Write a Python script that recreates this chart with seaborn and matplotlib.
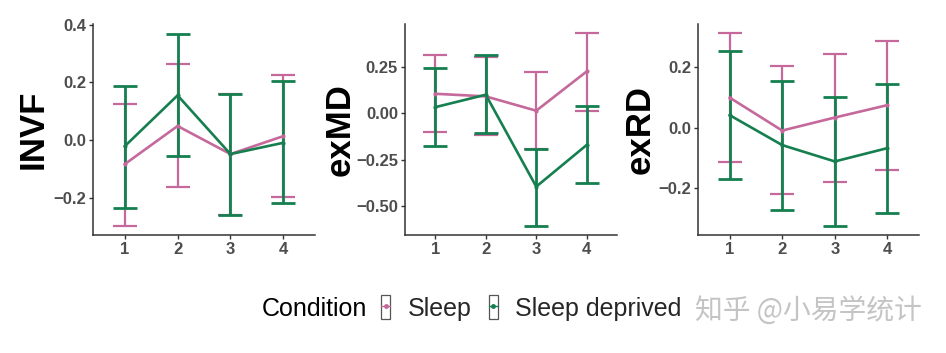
import matplotlib
matplotlib.use("Agg")
import matplotlib.pyplot as plt
import seaborn as sns
import pandas as pd
import numpy as np
from matplotlib.lines import Line2D
from matplotlib.patches import Rectangle
from matplotlib.legend_handler import HandlerTuple

sns.set_theme(style="white")
plt.rcParams['font.family'] = ['Liberation Sans', 'DejaVu Sans']

timepoints = [1, 2, 3, 4]
conditions = ["Sleep", "Sleep deprived"]
measures = ["INVF", "exMD", "exRD"]

invf_sleep_mean = [-0.083, 0.049, -0.048, 0.014]
invf_sleep_low = [-0.297, -0.161, -0.260, -0.197]
invf_sleep_high = [0.126, 0.262, 0.161, 0.225]
invf_dep_mean = [-0.021, 0.155, -0.048, -0.009]
invf_dep_low = [-0.235, -0.054, -0.260, -0.218]
invf_dep_high = [0.187, 0.368, 0.161, 0.204]

exmd_sleep_mean = [0.104, 0.090, 0.013, 0.224]
exmd_sleep_low = [-0.104, -0.118, -0.192, 0.014]
exmd_sleep_high = [0.310, 0.300, 0.219, 0.431]
exmd_dep_mean = [0.032, 0.099, -0.395, -0.171]
exmd_dep_low = [-0.174, -0.108, -0.607, -0.377]
exmd_dep_high = [0.241, 0.310, -0.192, 0.039]

exrd_sleep_mean = [0.099, -0.010, 0.033, 0.074]
exrd_sleep_low = [-0.115, -0.221, -0.181, -0.140]
exrd_sleep_high = [0.312, 0.204, 0.244, 0.285]
exrd_dep_mean = [0.041, -0.058, -0.112, -0.068]
exrd_dep_low = [-0.171, -0.272, -0.325, -0.281]
exrd_dep_high = [0.253, 0.154, 0.100, 0.144]

data = {
    "INVF": {"Sleep": (invf_sleep_mean, invf_sleep_low, invf_sleep_high),
             "Sleep deprived": (invf_dep_mean, invf_dep_low, invf_dep_high)},
    "exMD": {"Sleep": (exmd_sleep_mean, exmd_sleep_low, exmd_sleep_high),
             "Sleep deprived": (exmd_dep_mean, exmd_dep_low, exmd_dep_high)},
    "exRD": {"Sleep": (exrd_sleep_mean, exrd_sleep_low, exrd_sleep_high),
             "Sleep deprived": (exrd_dep_mean, exrd_dep_low, exrd_dep_high)},
}

rows = []
for m in measures:
    for c in conditions:
        mean, low, high = data[m][c]
        for t, mu, lo, hi in zip(timepoints, mean, low, high):
            rows.append(dict(measure=m, condition=c, time=t, mean=mu, low=lo, high=hi))
df = pd.DataFrame(rows)

palette = {"Sleep": "#C5699C", "Sleep deprived": "#157F4F"}
lw = {"Sleep": 1.6, "Sleep deprived": 2.0}

fig = plt.figure(figsize=(9.46, 3.53), dpi=100)
positions = [(93, 315), (405, 617), (698, 919)]
ylims = [(-0.328, 0.402), (-0.655, 0.479), (-0.355, 0.342)]
yticks = [[-0.2, 0.0, 0.2, 0.4], [-0.5, -0.25, 0.0, 0.25], [-0.2, 0.0, 0.2]]
ylabs = [["\u22120.2", "0.0", "0.2", "0.4"], ["\u22120.50", "\u22120.25", "0.00", "0.25"],
         ["\u22120.2", "0.0", "0.2"]]
label_x = [33, 340, 640]
W, H = 946, 353
top, bottom = 24, 235

for i, m in enumerate(measures):
    x0, x1 = positions[i]
    ax = fig.add_axes([x0 / W, 1 - bottom / H, (x1 - x0) / W, (bottom - top) / H])
    sub = df[df.measure == m]
    for c in conditions:
        s = sub[sub.condition == c]
        ax.errorbar(s["time"], s["mean"],
                    yerr=[s["mean"] - s["low"], s["high"] - s["mean"]],
                    fmt="none", ecolor=palette[c], elinewidth=lw[c],
                    capsize=8.5, capthick=lw[c], zorder=2 if c == "Sleep" else 3)
    sns.lineplot(data=sub, x="time", y="mean", hue="condition", palette=palette,
                 hue_order=conditions, ax=ax, legend=False, linewidth=1.9,
                 marker="o", markersize=3, markeredgewidth=0, zorder=4)
    ax.set_xlim(0.4, 4.6)
    ax.set_ylim(*ylims[i])
    ax.set_xticks(timepoints)
    ax.set_xticklabels([str(t) for t in timepoints])
    ax.set_yticks(yticks[i])
    ax.set_yticklabels(ylabs[i])
    ax.set_xlabel("")
    ax.set_ylabel(m, fontsize=25, fontweight="bold", color="black")
    ax.yaxis.set_label_coords((label_x[i] - x0) / (x1 - x0), 0.5)
    ax.yaxis.label.set_va("center")
    for sp in ["top", "right"]:
        ax.spines[sp].set_visible(False)
    for sp in ["left", "bottom"]:
        ax.spines[sp].set_color("#333333")
        ax.spines[sp].set_linewidth(1.1)
    ax.tick_params(axis="both", which="major", length=3, width=1, color="#333333",
                   labelsize=12, labelcolor="#4D4D4D", pad=2, left=True, bottom=True)
    for lab in ax.get_xticklabels() + ax.get_yticklabels():
        lab.set_fontweight("bold")
    ax.set_facecolor("white")

# Legend
fig.text(262 / W, 1 - 309 / H, "Condition", fontsize=18, va="center", ha="left", color="black")
handles = []
for c in conditions:
    box = Rectangle((0, 0), 1, 1, facecolor="white", edgecolor="#555555", linewidth=0.9)
    ln = Line2D([0], [0], color=palette[c], linewidth=1.0, marker="o", markersize=2.5)
    handles.append((box, ln))
fig.legend(handles=handles, labels=conditions, loc="center left",
           bbox_to_anchor=(381 / W, 1 - 308 / H), ncol=2, frameon=False,
           fontsize=18, handlelength=0.36, handleheight=1.1, handletextpad=0.7,
           columnspacing=0.7, borderpad=0, borderaxespad=0,
           handler_map={tuple: HandlerTuple(ndivide=1, pad=0)})

fig.text(695 / W, 1 - 311 / H, "知乎 @小易学统计", fontsize=20, va="center", ha="left",
         color="#C4C4C4", family=["Noto Sans CJK SC", "DejaVu Sans"])

fig.savefig("out.png", dpi=100, facecolor="white")
